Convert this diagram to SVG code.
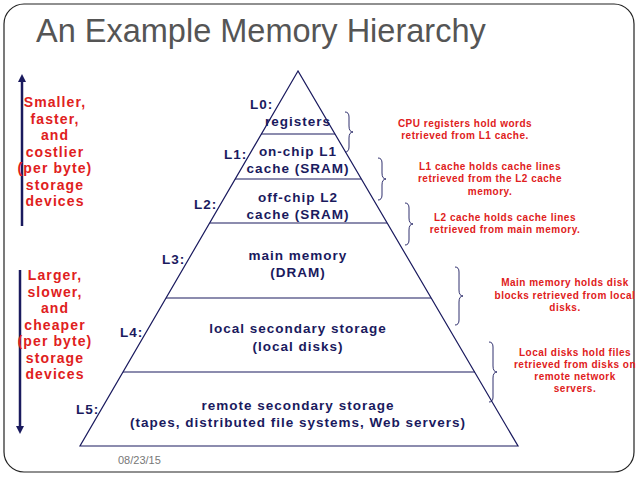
<svg xmlns="http://www.w3.org/2000/svg" width="638" height="479" viewBox="0 0 638 479">
<defs>
<style>
.t{font-family:"Liberation Sans",Arial,sans-serif;font-weight:bold;}
.n{fill:#1a1a5e;font-size:13.5px;letter-spacing:1px;}
.r{fill:#e02020;font-size:14px;letter-spacing:1.1px;}
.a{fill:#e02020;font-size:10px;letter-spacing:0.5px;}
.ln{stroke:#1a1a5e;stroke-width:1.2;fill:none;}
.br{stroke:#1a1a5e;stroke-width:0.9;fill:none;}
</style>
<marker id="ah" markerWidth="8" markerHeight="8" refX="4" refY="4" orient="auto" markerUnits="userSpaceOnUse"><path d="M0,0 L8,4 L0,8 z" fill="#1a1a5e"/></marker>
</defs>
<rect x="0" y="0" width="638" height="479" fill="#fff"/>
<rect x="4" y="4" width="630" height="468" rx="20" fill="none" stroke="#222" stroke-width="1.2"/>
<text x="36" y="42" font-family="'Liberation Sans',Arial,sans-serif" font-size="32.5" fill="#555">An Example Memory Hierarchy</text>
<g id="connectors">
<line x1="22" y1="226" x2="22" y2="78" stroke="#1a1a5e" stroke-width="2.5" marker-end="url(#ah)"/>
<line x1="20" y1="270" x2="20" y2="430" stroke="#1a1a5e" stroke-width="2.5" marker-end="url(#ah)"/>
</g>
<g id="pyramid">
<path class="ln" d="M298,71 L80,446 L518,446 Z"/>
<line class="ln" x1="261" y1="134" x2="335" y2="134"/>
<line class="ln" x1="235" y1="179" x2="361" y2="179"/>
<line class="ln" x1="210" y1="223" x2="387" y2="223"/>
<line class="ln" x1="166" y1="298" x2="431" y2="298"/>
<line class="ln" x1="123" y1="372" x2="475" y2="372"/>
</g>
<g id="levels" class="t n" text-anchor="middle">
<text x="298" y="126">registers</text>
<text x="298" y="156">on-chip L1</text><text x="298" y="173">cache (SRAM)</text>
<text x="298" y="202">off-chip L2</text><text x="298" y="219">cache (SRAM)</text>
<text x="298" y="260">main memory</text><text x="298" y="277">(DRAM)</text>
<text x="298" y="333">local secondary storage</text><text x="298" y="351">(local disks)</text>
<text x="298" y="410">remote secondary storage</text><text x="298" y="427">(tapes, distributed file systems, Web servers)</text>
</g>
<g id="labels" class="t n">
<text x="250" y="109">L0:</text>
<text x="224" y="159">L1:</text>
<text x="194" y="209">L2:</text>
<text x="162" y="264">L3:</text>
<text x="120" y="337">L4:</text>
<text x="76" y="414">L5:</text>
</g>
<g id="left" class="t r" text-anchor="middle">
<text x="55" y="107">Smaller,</text><text x="55" y="124">faster,</text><text x="55" y="140">and</text><text x="55" y="157">costlier</text><text x="55" y="173">(per byte)</text><text x="55" y="190">storage</text><text x="55" y="206">devices</text>
<text x="55" y="280">Larger,</text><text x="55" y="297">slower,</text><text x="55" y="313">and</text><text x="55" y="330">cheaper</text><text x="55" y="346">(per byte)</text><text x="55" y="363">storage</text><text x="55" y="379">devices</text>
</g>
<g id="braces">
<path class="br" d="M345,112 Q349,112 349,117 L349,126 Q349,132 353,132 Q349,132 349,138 L349,147 Q349,152 345,152"/>
<path class="br" d="M378,158 Q382,158 382,163 L382,173 Q382,179 386,179 Q382,179 382,185 L382,195 Q382,200 378,200"/>
<path class="br" d="M405,203 Q409,203 409,208 L409,218 Q409,224 413,224 Q409,224 409,230 L409,240 Q409,245 405,245"/>
<path class="br" d="M455,267 Q459,267 459,272 L459,290 Q459,296 463,296 Q459,296 459,302 L459,320 Q459,325 455,325"/>
<path class="br" d="M489,342 Q493,342 493,347 L493,366 Q493,372 497,372 Q493,372 493,378 L493,397 Q493,402 489,402"/>
</g>
<g id="annotations" class="t a" text-anchor="middle">
<text x="465" y="127">CPU registers hold words</text><text x="465" y="139">retrieved from L1 cache.</text>
<text x="490" y="170">L1 cache holds cache lines</text><text x="490" y="182">retrieved from the L2 cache</text><text x="490" y="195">memory.</text>
<text x="505" y="221">L2 cache holds cache lines</text><text x="505" y="233">retrieved from main memory.</text>
<text x="565" y="286">Main memory holds disk</text><text x="565" y="299">blocks retrieved from local</text><text x="565" y="311">disks.</text>
<text x="575" y="356">Local disks hold files</text><text x="575" y="368">retrieved from disks on</text><text x="575" y="380">remote network</text><text x="575" y="392">servers.</text>
</g>
<text x="118" y="464" font-family="'Liberation Sans',Arial,sans-serif" font-size="11" fill="#777">08/23/15</text>
</svg>
